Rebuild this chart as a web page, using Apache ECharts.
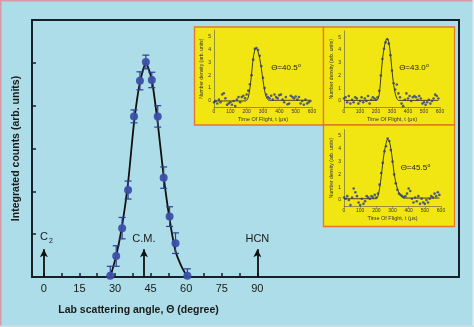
<!DOCTYPE html>
<html>
<head>
<meta charset="utf-8">
<script src="https://cdn.jsdelivr.net/npm/echarts@6/dist/echarts.min.js"></script>
<style>
  html, body { margin: 0; padding: 0; background: #acdde8; }
  #chart { width: 474px; height: 327px; }
</style>
</head>
<body>
<div id="chart"></div>
<script>
// Laboratory angular distribution of the product
const angles   = [28, 30.5, 33, 35.5, 38, 40.5, 43, 45.5, 48, 50.5, 53, 55.5, 60.5];
const counts   = [0.03, 0.49, 1.14, 2.03, 3.75, 4.58, 5.02, 4.6, 3.75, 2.32, 1.41, 0.79, 0.03];
const countErr = [0.22, 0.24, 0.25, 0.21, 0.15, 0.21, 0.16, 0.18, 0.25, 0.25, 0.23, 0.24, 0.16];

// Forward-convolution fit of the angular distribution
const fitAngles = [28, 30.5, 33, 35.5, 38, 40.5, 43, 45.5, 48, 50.5, 53, 55.5, 58, 60.5];
const fitCounts = [0, 0.5, 1.2, 2.2, 3.6, 4.55, 5.0, 4.6, 3.6, 2.35, 1.35, 0.6, 0.25, 0];

// Angles of the reactant beams and the centre of mass
const markerNames  = ['C2', 'C.M.', 'HCN'];
const markerAngles = [0, 42.2, 90];

// Angle tick labels
const angleLabels = [0, 15, 30, 45, 60, 75, 90];

// Time-of-flight spectra
const tof = [0, 10, 20, 30, 40, 50, 60, 70, 80, 90,
  100, 110, 120, 130, 140, 150, 160, 170, 180, 190,
  200, 210, 220, 230, 240, 250, 260, 270, 280, 290,
  300, 310, 320, 330, 340, 350, 360, 370, 380, 390,
  400, 410, 420, 430, 440, 450, 460, 470, 480, 490,
  500, 510, 520, 530, 540, 550, 560, 570, 580, 590];

const tof405 = [-0.1, 0.0, -0.2, 0.1, -0.1, 0.5, 0.6, 0.2, -0.3, -0.2,
  -0.1, -0.3, 0.0, -0.4, 0.1, 0.3, -0.1, 0.3, 0.4, 0.2,
  0.5, 0.8, 1.3, 2.0, 3.2, 4.05, 4.1, 3.95, 3.5, 2.7,
  1.8, 1.0, 0.5, 0.3, 0.2, 0.4, 0.1, 0.5, 0.3, 0.2,
  0.45, 0.5, 0.1, -0.1, 0.3, -0.25, -0.2, 0.4, 0.3, 0.2,
  0.35, 0.1, 0.3, -0.2, 0.0, -0.3, 0.1, -0.2, -0.1, 0.0];
const fit405 = [0, 0, 0, 0, 0, 0, 0, 0, 0, 0,
  0, 0, 0, 0, 0, 0, 0, 0, 0, 0,
  0.05, 0.3, 1.0, 2.1, 3.3, 3.95, 4.05, 3.8, 3.3, 2.5,
  1.6, 0.8, 0.3, 0.1, 0.05, 0.05, 0.05, 0.05, 0.05, 0.05,
  0.05, 0.05, 0.05, 0.05, 0.05, 0.05, 0.05, 0.05, 0.05, 0.05,
  0.05, 0.05, 0.05, 0.05, 0.05, 0.05, 0.05, 0.05, 0.05, 0.05];

const tof430 = [0.2, 0.3, -0.1, 0.4, -0.2, 0.1, -0.1, 0.3, 0.2, -0.2,
  0.0, 0.3, -0.1, 0.2, 0.0, 0.4, -0.2, 0.1, 0.3, 0.2,
  0.1, 0.3, 0.8, 2.0, 3.3, 4.1, 4.6, 4.85, 4.5, 3.6,
  2.4, 1.4, 0.9, 1.3, 0.6, 0.3, -0.2, -0.4, 0.1, 0.6,
  0.2, 0.4, 0.0, 0.3, 0.4, 0.3, 0.1, 0.4, 0.2, -0.2,
  -0.1, -0.3, -0.1, 0.1, -0.2, 0.0, 0.2, 0.5, 0.4, 0.2];
const fit430 = [0.05, 0.05, 0.05, 0.05, 0.05, 0.05, 0.05, 0.05, 0.05, 0.05,
  0.05, 0.05, 0.05, 0.05, 0.05, 0.05, 0.05, 0.05, 0.05, 0.05,
  0.05, 0.1, 0.5, 1.8, 3.2, 4.1, 4.7, 4.9, 4.6, 3.7,
  2.4, 1.3, 0.6, 0.2, 0.05, 0.05, 0.05, 0.05, 0.05, 0.05,
  0.05, 0.05, 0.05, 0.05, 0.05, 0.05, 0.05, 0.05, 0.05, 0.05,
  0.05, 0.05, 0.05, 0.05, 0.05, 0.05, 0.05, 0.05, 0.05, 0.05];

const tof455 = [0.2, 0.1, 0.3, 0.0, -0.4, 0.2, 0.9, 0.6, 0.3, -0.2,
  -0.4, 0.1, -0.3, -0.1, 0.3, 0.2, 0.1, 0.3, 0.2, 0.4,
  0.2, 0.5, 1.2, 2.1, 2.9, 3.8, 4.2, 4.8, 4.6, 3.9,
  3.0, 2.0, 1.3, 0.8, 0.5, 0.4, 0.3, 0.2, 0.3, 0.5,
  0.9, 0.7, 0.1, -0.2, 0.2, -0.1, 0.3, -0.3, 0.1, -0.2,
  -0.3, 0.0, -0.2, 0.1, 0.3, 0.2, 0.5, 0.3, 0.6, 0.4];
const fit455 = [0.1, 0.1, 0.1, 0.1, 0.1, 0.1, 0.1, 0.1, 0.1, 0.1,
  0.1, 0.1, 0.1, 0.1, 0.1, 0.1, 0.1, 0.1, 0.1, 0.1,
  0.1, 0.3, 0.9, 1.8, 2.9, 3.8, 4.4, 4.75, 4.6, 4.0,
  3.1, 2.1, 1.4, 0.9, 0.55, 0.35, 0.25, 0.2, 0.15, 0.15,
  0.15, 0.15, 0.15, 0.15, 0.15, 0.15, 0.15, 0.15, 0.15, 0.15,
  0.15, 0.15, 0.15, 0.15, 0.15, 0.15, 0.15, 0.15, 0.15, 0.15];

const insetAngles = ['40.5', '43.0', '45.5'];

// ---------------------------------------------------------------
const FONT = '"Liberation Sans", Arial, sans-serif';
const INK = '#15202a';
const DOT = '#3c4fa6';
const TOF_DOT = '#2a3a8e';

const pairs = (xs, ys) => xs.map((x, i) => [x, ys[i]]);

// plot frame geometry (px); the angle scale runs past the last labelled tick
const frame = { left: 32, top: 20, width: 427, height: 257 };
const angleMin = -5, angleMax = 175;
const pxPerDeg = frame.width / (angleMax - angleMin);
const zeroX = frame.left + (0 - angleMin) * pxPerDeg;

// inset boxes and their plot areas
const insetBoxes = [
  { x: 194.5, y: 27, w: 129, h: 98 },
  { x: 323.5, y: 27, w: 131, h: 98 },
  { x: 323.5, y: 125, w: 131, h: 101.5 }
];
const insetGrids = [
  { left: 214, top: 30, width: 98, height: 77.4 },
  { left: 344, top: 30.9, width: 96, height: 76.5 },
  { left: 344, top: 129.6, width: 97, height: 76.8 }
];
const insetSeries = [[tof405, fit405], [tof430, fit430], [tof455, fit455]];

const grids = [
  // main frame, carries the data
  Object.assign({ show: true, borderColor: INK, borderWidth: 2, backgroundColor: 'transparent' }, frame),
  // labelled stretch of the angle axis (0 – 90°)
  { left: zeroX, top: frame.top, width: 90 * pxPerDeg, height: frame.height }
].concat(insetGrids);

const xAxes = [
  {
    gridIndex: 0, type: 'value', min: angleMin, max: angleMax,
    axisLine: { show: false, onZero: false }, axisTick: { show: false }, axisLabel: { show: false },
    splitLine: { show: false }
  },
  {
    gridIndex: 1, type: 'value', min: 0, max: 90, interval: 7.5,
    axisLine: { show: false, onZero: false },
    axisTick: { show: true, inside: true, length: 4, lineStyle: { color: INK, width: 1.5 } },
    axisLabel: {
      color: '#1a1a1a', fontSize: 11, fontFamily: FONT, margin: 6,
      showMinLabel: true, showMaxLabel: true,
      formatter: v => angleLabels.indexOf(v) >= 0 ? String(v) : ''
    },
    splitLine: { show: false }
  }
];
const yAxes = [
  {
    gridIndex: 0, type: 'value', min: 0, max: 6, interval: 1,
    axisLine: { show: false, onZero: false },
    axisTick: { show: true, inside: true, length: 4, lineStyle: { color: INK, width: 1.5 } },
    axisLabel: { show: false },
    splitLine: { show: false },
    name: 'Integrated counts (arb. units)', nameLocation: 'middle', nameGap: 10,
    nameTextStyle: { fontSize: 10.5, fontWeight: 'bold', color: '#1a1a1a', fontFamily: FONT }
  },
  { gridIndex: 1, type: 'value', min: 0, max: 6, show: false }
];

insetGrids.forEach((g, k) => {
  const gi = k + 2;
  xAxes.push({
    gridIndex: gi, type: 'value', min: 0, max: 600, interval: 100,
    axisLine: { onZero: false, lineStyle: { color: '#555', width: 0.6 } },
    axisTick: { length: 1.5, lineStyle: { color: '#555', width: 0.5 } },
    axisLabel: { fontSize: 5, color: '#333', margin: 2, fontFamily: FONT, showMaxLabel: true },
    splitLine: { show: false },
    name: 'Time Of Flight, t (\u03bcs)', nameLocation: 'middle', nameGap: 9,
    nameTextStyle: { fontSize: 5.5, color: '#333', fontFamily: FONT }
  });
  yAxes.push({
    gridIndex: gi, type: 'value', min: -0.5, max: 5.5, interval: 0.5,
    axisLine: { onZero: false, lineStyle: { color: '#555', width: 0.6 } },
    axisTick: { show: false },
    axisLabel: {
      fontSize: 5, color: '#333', margin: 3, fontFamily: FONT,
      formatter: v => Number.isInteger(v) ? String(v) : ''
    },
    splitLine: { show: false },
    name: 'Number density (arb. units)', nameLocation: 'middle', nameGap: 8,
    nameTextStyle: { fontSize: 5, color: '#333', fontFamily: FONT }
  });
});

const series = [
  {
    type: 'line', xAxisIndex: 0, yAxisIndex: 0, data: pairs(fitAngles, fitCounts),
    smooth: 0.2, showSymbol: false, silent: true,
    lineStyle: { color: '#101010', width: 1.8 }, z: 3
  },
  {
    type: 'custom', xAxisIndex: 0, yAxisIndex: 0,
    data: angles.map((a, i) => [a, counts[i], countErr[i]]),
    renderItem: (params, api) => {
      const x = api.value(0), y = api.value(1), e = api.value(2);
      const lowClamped = y - e < 0;
      const top = api.coord([x, y + e]);
      const bot = api.coord([x, Math.max(0, y - e)]);
      const hw = 3.5;
      const style = { stroke: '#2d3f90', lineWidth: 1.2 };
      const children = [
        { type: 'line', shape: { x1: top[0], y1: top[1], x2: bot[0], y2: bot[1] }, style },
        { type: 'line', shape: { x1: top[0] - hw, y1: top[1], x2: top[0] + hw, y2: top[1] }, style }
      ];
      if (!lowClamped) {
        children.push({ type: 'line', shape: { x1: bot[0] - hw, y1: bot[1], x2: bot[0] + hw, y2: bot[1] }, style });
      }
      return { type: 'group', children };
    },
    z: 4
  },
  {
    type: 'scatter', xAxisIndex: 0, yAxisIndex: 0, data: pairs(angles, counts),
    symbolSize: 8, itemStyle: { color: DOT, opacity: 0.95 }, z: 5,
    markLine: {
      silent: true,
      symbol: ['none', 'arrow'], symbolSize: [6, 8],
      lineStyle: { color: '#101010', width: 1.8, type: 'solid' },
      label: {
        show: true, position: 'end', distance: 5,
        color: '#1a1a1a', fontSize: 11, fontFamily: FONT,
        formatter: p => p.name === 'C2' ? '{c|C}{s|2}' : p.name,
        rich: {
          c: { fontSize: 11, fontFamily: FONT, color: '#1a1a1a', padding: [0, 0, 0, 5] },
          s: { fontSize: 7, fontFamily: FONT, color: '#1a1a1a', padding: [7, 0, 0, 1] }
        }
      },
      data: markerAngles.map((a, i) => [
        { name: markerNames[i], coord: [a, 0] },
        { coord: [a, 0.65] }
      ])
    }
  }
];

insetSeries.forEach(([pts, fit], k) => {
  const gi = k + 2;
  series.push({
    type: 'line', xAxisIndex: gi, yAxisIndex: gi, data: pairs(tof, fit),
    smooth: 0.3, showSymbol: false, silent: true,
    lineStyle: { color: '#111', width: 0.8 }, z: 3
  });
  series.push({
    type: 'scatter', xAxisIndex: gi, yAxisIndex: gi, data: pairs(tof, pts),
    symbolSize: 2.6, itemStyle: { color: TOF_DOT }, z: 4
  });
});

const graphic = [];
insetBoxes.forEach(b => {
  graphic.push({
    type: 'rect', z: -1, silent: true,
    shape: { x: b.x, y: b.y, width: b.w, height: b.h },
    style: { fill: '#f2e612', stroke: '#e6762a', lineWidth: 1.3 }
  });
});
const thetaPos = [[286, 68], [414, 68], [415.5, 168]];
insetAngles.forEach((a, k) => {
  graphic.push({
    type: 'text', z: 10, silent: true,
    x: thetaPos[k][0], y: thetaPos[k][1],
    style: {
      text: '{t|\u0398=' + a + '}{o|o}',
      align: 'center', verticalAlign: 'middle',
      rich: {
        t: { fontSize: 8, fontFamily: FONT, fill: '#222' },
        o: { fontSize: 5, fontFamily: FONT, fill: '#222', padding: [0, 0, 5, 0.5] }
      }
    }
  });
});
graphic.push({
  type: 'text', z: 10, silent: true, x: 138.5, y: 310,
  style: {
    text: 'Lab scattering angle, \u0398 (degree)',
    font: 'bold 10.5px ' + FONT, fill: '#1a1a1a', align: 'center', verticalAlign: 'middle'
  }
});
// page edging
graphic.push({ type: 'line', z: 20, silent: true, shape: { x1: 0.75, y1: 0, x2: 0.75, y2: 327 }, style: { stroke: '#d89aa6', lineWidth: 1.5 } });
graphic.push({ type: 'line', z: 20, silent: true, shape: { x1: 0, y1: 0.75, x2: 474, y2: 0.75 }, style: { stroke: '#d89aa6', lineWidth: 1.5 } });
graphic.push({ type: 'line', z: 20, silent: true, shape: { x1: 473.25, y1: 0, x2: 473.25, y2: 327 }, style: { stroke: '#dfeef2', lineWidth: 1.5 } });
graphic.push({ type: 'line', z: 20, silent: true, shape: { x1: 0, y1: 326.25, x2: 474, y2: 326.25 }, style: { stroke: '#c9dfe5', lineWidth: 1.5 } });

const chart = echarts.init(document.getElementById('chart'), null, { renderer: 'canvas' });
chart.setOption({
  animation: false,
  backgroundColor: '#acdde8',
  textStyle: { fontFamily: FONT },
  grid: grids,
  xAxis: xAxes,
  yAxis: yAxes,
  series,
  graphic
});
</script>
</body>
</html>
